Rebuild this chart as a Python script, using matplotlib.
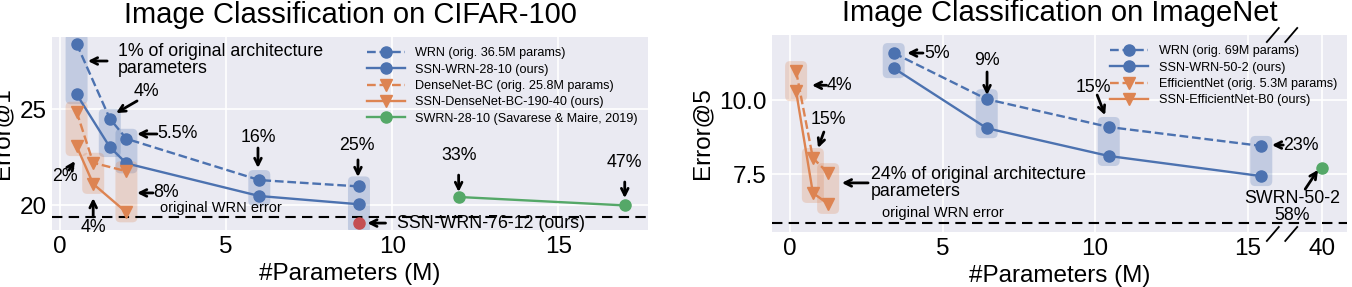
import matplotlib
matplotlib.use("Agg")
from matplotlib import pyplot as plt
from matplotlib.patches import FancyBboxPatch

#basic look: grey background, white grid, no spines
plt.rcParams.update({
    "font.family": ["Liberation Sans", "DejaVu Sans"],
    "axes.facecolor": "#EAEAF2",
    "axes.edgecolor": "white",
    "axes.grid": True,
    "axes.axisbelow": True,
    "grid.color": "white",
    "grid.linewidth": 1.2,
    "axes.spines.left": False,
    "axes.spines.right": False,
    "axes.spines.top": False,
    "axes.spines.bottom": False,
    "xtick.major.size": 0,
    "ytick.major.size": 0,
    "xtick.major.pad": 4,
    "ytick.major.pad": 4,
    "xtick.labelsize": 17.5,
    "ytick.labelsize": 17.5,
    "axes.labelsize": 17.5,
    "axes.titlesize": 21,
})

BLUE = "#4C72B0"
ORANGE = "#DD8452"
GREEN = "#55A868"
RED = "#C44E52"
NOTE_SIZE = 12.8
LEGEND_SIZE = 9.1

#CIFAR-100 data (params in M, error@1)
cifar_wrn_params = [0.5, 1.5, 2.0, 6.0, 9.0]
cifar_wrn_err = [28.4, 24.5, 23.45, 21.3, 20.97]
cifar_ssn_wrn_err = [25.77, 23.02, 22.17, 20.47, 20.04]
cifar_dense_params = [0.5, 1.0, 2.0]
cifar_dense_err = [24.86, 22.2, 21.76]
cifar_ssn_dense_err = [23.07, 21.1, 19.62]
cifar_swrn_params = [12.0, 17.0]
cifar_swrn_err = [20.42, 19.98]
cifar_ssn76_params = [9.0]
cifar_ssn76_err = [19.06]
cifar_wrn_baseline = 19.37
cifar_xticks = [0, 5, 10, 15]
cifar_yticks = [20, 25]

#ImageNet data (params in M, error@5)
inet_wrn_params = [3.4, 6.45, 10.45, 15.45]
inet_wrn_err = [11.59, 10.03, 9.09, 8.45]
inet_ssn_wrn_err = [11.08, 9.05, 8.11, 7.43]
inet_eff_params = [0.2, 0.75, 1.25]
inet_eff_err = [10.98, 8.04, 7.53]
inet_ssn_eff_err = [10.3, 6.86, 6.49]
inet_swrn_params = [40.0]
inet_swrn_err = [7.7]
inet_wrn_baseline = 5.84
inet_xticks = [0, 5, 10, 15, 40]
inet_yticks = [7.5, 10.0]

#the imagenet x axis is broken: 40M sits just right of 15
BREAK_POS = 17.45
def inet_pos(p):
    return p if p < 20 else BREAK_POS + (p - 40)

fig = plt.figure(figsize=(13.52, 2.87), dpi=100)
W, H = 1352, 287
ax1 = fig.add_axes([52 / W, 57 / H, 596 / W, 193 / H])
ax2 = fig.add_axes([772 / W, 55 / H, 575 / W, 197 / H])

ax1.set_xlim(-0.24, 17.7)
ax1.set_ylim(18.7, 28.75)
ax2.set_xlim(-0.59, 18.26)
ax2.set_ylim(5.54, 12.2)

def add_box(ax, x, ys, color):
    #rounded shaded box around a group of points, sized in pixels
    bbox = ax.get_window_extent()
    x0, x1 = ax.get_xlim()
    y0, y1 = ax.get_ylim()
    dx = (x1 - x0) / bbox.width
    dy = (y1 - y0) / bbox.height
    hw, pad, r = 11 * dx, 10 * dy, 5 * dx
    lo, hi = min(ys) - pad, max(ys) + pad
    patch = FancyBboxPatch((x - hw, lo), 2 * hw, hi - lo,
                           boxstyle="round,pad=0,rounding_size=%f" % r,
                           mutation_aspect=dy / dx,
                           facecolor=color, edgecolor="none", alpha=0.25, zorder=1.5)
    ax.add_patch(patch)

arrow = dict(arrowstyle="->", color="black", lw=2, mutation_scale=12, shrinkA=0, shrinkB=0)

def note(ax, head, tail, text=None, tx=None, **kw):
    ax.annotate("", xy=head, xytext=tail, arrowprops=arrow, zorder=5)
    if text is not None:
        ax.text(tx[0], tx[1], text, fontsize=NOTE_SIZE, zorder=5, **kw)

# ---------------- CIFAR-100 ----------------
ax = ax1
for i, x in enumerate(cifar_wrn_params):
    ys = [cifar_wrn_err[i], cifar_ssn_wrn_err[i]]
    if x in cifar_ssn76_params:
        ys += cifar_ssn76_err
    add_box(ax, x, ys, BLUE)
for i, x in enumerate(cifar_dense_params):
    add_box(ax, x, [cifar_dense_err[i], cifar_ssn_dense_err[i]], ORANGE)

ax.axhline(cifar_wrn_baseline, color="black", ls=(0, (5, 3)), lw=1.5, zorder=2)
ax.plot(cifar_wrn_params, cifar_wrn_err, "--o", color=BLUE, lw=1.7, ms=8,
        label="WRN (orig. 36.5M params)", zorder=3)
ax.plot(cifar_wrn_params, cifar_ssn_wrn_err, "-o", color=BLUE, lw=1.7, ms=8,
        label="SSN-WRN-28-10 (ours)", zorder=3)
ax.plot(cifar_dense_params, cifar_dense_err, "--v", color=ORANGE, lw=1.7, ms=9,
        label="DenseNet-BC (orig. 25.8M params)", zorder=3)
ax.plot(cifar_dense_params, cifar_ssn_dense_err, "-v", color=ORANGE, lw=1.7, ms=9,
        label="SSN-DenseNet-BC-190-40 (ours)", zorder=3)
ax.plot(cifar_swrn_params, cifar_swrn_err, "-o", color=GREEN, lw=1.7, ms=8,
        label="SWRN-28-10 (Savarese & Maire, 2019)", zorder=3)
ax.plot(cifar_ssn76_params, cifar_ssn76_err, "o", color=RED, ms=8, zorder=3)

note(ax, (0.84, 27.5), (1.42, 27.5), "1% of original architecture\nparameters", (1.75, 27.53),
     va="center", ha="left", linespacing=1.0)
note(ax, (1.69, 24.79), (2.32, 25.42), "4%", (2.6, 25.9), va="center", ha="center")
note(ax, (2.32, 23.7), (2.92, 23.7), "5.5%", (2.93, 23.7), va="center", ha="left")
note(ax, (5.96, 21.93), (5.96, 22.97), "16%", (5.96, 23.5), va="center", ha="center")
note(ax, (8.97, 21.46), (8.97, 22.35), "25%", (8.95, 23.1), va="center", ha="center")
note(ax, (12.0, 20.68), (12.0, 21.56), "33%", (12.0, 22.6), va="center", ha="center")
note(ax, (17.0, 20.36), (17.0, 21.2), "47%", (17.0, 22.2), va="center", ha="center")
note(ax, (0.45, 22.29), (0.27, 21.82), "2%", (0.15, 21.46), va="center", ha="center")
note(ax, (1.0, 20.36), (1.0, 19.38), "4%", (1.0, 18.85), va="center", ha="center")
note(ax, (2.32, 20.63), (2.8, 20.63), "8%", (2.82, 20.63), va="center", ha="left")
note(ax, (9.25, 19.06), (9.8, 19.06), "SSN-WRN-76-12 (ours)", (10.15, 19.06),
     va="center", ha="left")
ax.text(3.0, 19.82, "original WRN error", fontsize=10.5, va="center", ha="left", zorder=5)

ax.set_xticks(cifar_xticks)
ax.set_yticks(cifar_yticks)
ax.set_xlabel("#Parameters (M)")
ax.set_ylabel("Error@1")
ax.set_title("Image Classification on CIFAR-100", pad=10)
ax.legend(loc="upper right", fontsize=LEGEND_SIZE, frameon=False, handlelength=3.0,
          handletextpad=0.8, labelspacing=0.35, borderaxespad=0.4)

# ---------------- ImageNet ----------------
ax = ax2
for i, x in enumerate(inet_wrn_params):
    add_box(ax, x, [inet_wrn_err[i], inet_ssn_wrn_err[i]], BLUE)
for i, x in enumerate(inet_eff_params):
    add_box(ax, x, [inet_eff_err[i], inet_ssn_eff_err[i]], ORANGE)

ax.axhline(inet_wrn_baseline, color="black", ls=(0, (5, 3)), lw=1.5, zorder=2)
ax.plot(inet_wrn_params, inet_wrn_err, "--o", color=BLUE, lw=1.7, ms=8,
        label="WRN (orig. 69M params)", zorder=3)
ax.plot(inet_wrn_params, inet_ssn_wrn_err, "-o", color=BLUE, lw=1.7, ms=8,
        label="SSN-WRN-50-2 (ours)", zorder=3)
ax.plot(inet_eff_params, inet_eff_err, "--v", color=ORANGE, lw=1.7, ms=9,
        label="EfficientNet (orig. 5.3M params)", zorder=3)
ax.plot(inet_eff_params, inet_ssn_eff_err, "-v", color=ORANGE, lw=1.7, ms=9,
        label="SSN-EfficientNet-B0 (ours)", zorder=3)
ax.plot([inet_pos(p) for p in inet_swrn_params], inet_swrn_err, "o", color=GREEN, ms=8, zorder=3)

note(ax, (3.84, 11.59), (4.36, 11.59), "5%", (4.4, 11.59), va="center", ha="left")
note(ax, (0.72, 10.5), (1.2, 10.5), "4%", (1.2, 10.5), va="center", ha="left")
note(ax, (6.46, 10.17), (6.46, 10.95), "9%", (6.46, 11.35), va="center", ha="center")
note(ax, (0.92, 8.38), (1.11, 8.92), "15%", (1.25, 9.36), va="center", ha="center")
note(ax, (1.7, 7.2), (2.56, 7.2), "24% of original architecture\nparameters", (2.66, 7.2),
     va="center", ha="left", linespacing=1.0)
note(ax, (10.33, 9.49), (10.07, 10.17), "15%", (9.93, 10.44), va="center", ha="center")
note(ax, (15.8, 8.48), (16.17, 8.48), "23%", (16.18, 8.48), va="center", ha="left")
note(ax, (17.31, 7.64), (16.89, 6.99), "SWRN-50-2\n58%", (16.46, 6.37),
     va="center", ha="center", linespacing=1.0)
ax.text(5.0, 6.18, "original WRN error", fontsize=10.5, va="center", ha="center", zorder=5)

ax.set_xticks([inet_pos(p) for p in inet_xticks])
ax.set_xticklabels([str(p) for p in inet_xticks])
ax.set_yticks(inet_yticks)
ax.set_xlabel("#Parameters (M)")
ax.set_ylabel("Error@5")
ax.set_title("Image Classification on ImageNet", pad=10)
ax.legend(loc="upper right", fontsize=LEGEND_SIZE, frameon=False, handlelength=3.0,
          handletextpad=0.8, labelspacing=0.35, borderaxespad=0.4)

#axis break marks
for cx in (0.871, 0.903):
    for cy in (1.0, -0.01):
        ax.plot([cx - 0.0104, cx + 0.0104], [cy - 0.0355, cy + 0.0355], color="black",
                lw=1.3, transform=ax.transAxes, clip_on=False, zorder=6)

fig.savefig("out.png", dpi=100)
